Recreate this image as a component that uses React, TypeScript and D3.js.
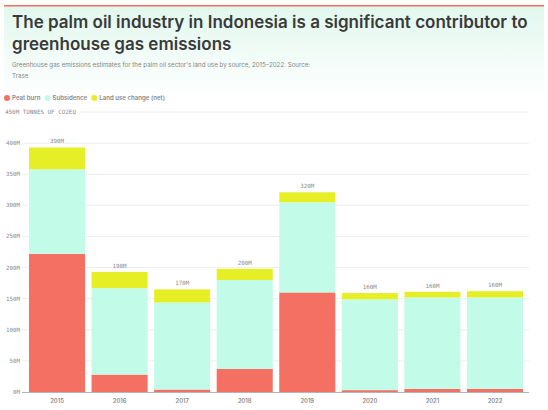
import React, { useEffect, useRef } from "react";
import * as d3 from "d3";

const years = ["2015", "2016", "2017", "2018", "2019", "2020", "2021", "2022"];
const peatBurn = [222, 28, 4, 37, 160, 3, 5, 5];
const subsidence = [136, 139, 140, 143, 145, 146, 147, 147];
const landUse = [35, 26, 21, 18, 16, 10, 9, 10];
const totalLabels = ["390M", "190M", "170M", "200M", "320M", "160M", "160M", "160M"];
const yTicks = [0, 50, 100, 150, 200, 250, 300, 350, 400];

const seriesKeys = ["peat", "subsidence", "landUse"];
const seriesNames = ["Peat burn", "Subsidence", "Land use change (net)"];
const seriesColors = ["#f47062", "#c2fbe8", "#e6ef26"];

const W = 548;
const H = 410;

const App = () => {
  const ref = useRef<SVGSVGElement>(null);

  useEffect(() => {
    const svg = d3.select(ref.current);
    svg.selectAll("*").remove();

    // background card with gradient header
    const defs = svg.append("defs");
    const grad = defs
      .append("linearGradient")
      .attr("id", "hdr")
      .attr("x1", 0)
      .attr("y1", 0)
      .attr("x2", 0)
      .attr("y2", 1);
    grad.append("stop").attr("offset", "0%").attr("stop-color", "#e1f8ee");
    grad.append("stop").attr("offset", "100%").attr("stop-color", "#ffffff");

    svg.append("rect").attr("width", W).attr("height", H).attr("fill", "#fff");
    svg
      .append("rect")
      .attr("x", 4)
      .attr("y", 6)
      .attr("width", 540)
      .attr("height", 92)
      .attr("fill", "url(#hdr)");
    svg
      .append("rect")
      .attr("x", 4)
      .attr("y", 5)
      .attr("width", 540)
      .attr("height", 1.5)
      .attr("fill", "#f47062");

    const font = "Inter, 'Open Sans', sans-serif";

    // title
    const title = svg
      .append("text")
      .attr("x", 12)
      .attr("font-family", font)
      .attr("font-size", 17)
      .attr("font-weight", 600)
      .attr("fill", "#3a3a3a");
    title.append("tspan").attr("x", 12).attr("y", 28).text("The palm oil industry in Indonesia is a significant contributor to");
    title.append("tspan").attr("x", 12).attr("y", 50).text("greenhouse gas emissions");

    const sub = svg
      .append("text")
      .attr("font-family", font)
      .attr("font-size", 6.2)
      .attr("fill", "#858585");
    sub.append("tspan").attr("x", 12).attr("y", 67).text("Greenhouse gas emissions estimates for the palm oil sector's land use by source, 2015\u20132022. Source:");
    sub.append("tspan").attr("x", 12).attr("y", 77.5).text("Trase");

    // legend
    const legend = svg.append("g").attr("transform", "translate(0,98)");
    let lx = 7;
    seriesNames.forEach((name, i) => {
      legend.append("circle").attr("cx", lx).attr("cy", 0).attr("r", 3).attr("fill", seriesColors[i]);
      const t = legend
        .append("text")
        .attr("x", lx + 5)
        .attr("y", 2.2)
        .attr("font-family", font)
        .attr("font-size", 6.1)
        .attr("font-weight", 600)
        .attr("fill", "#8a8a8a")
        .text(name);
      const w = (t.node() as SVGTextElement).getComputedTextLength();
      lx += w + 12;
    });

    const x = d3
      .scaleBand()
      .domain(years)
      .range([23, 529])
      .paddingInner(0.104)
      .paddingOuter(0.096);

    const y = d3.scaleLinear().domain([0, 450]).range([392, 112]);

    const mono = "'DejaVu Sans Mono', 'Liberation Mono', monospace";

    // gridlines
    svg
      .append("g")
      .selectAll("line")
      .data(yTicks.filter((d) => d > 0))
      .join("line")
      .attr("x1", 22)
      .attr("x2", 529)
      .attr("y1", (d) => y(d))
      .attr("y2", (d) => y(d))
      .attr("stroke", "#eeeeee")
      .attr("stroke-width", 1);

    svg
      .append("line")
      .attr("x1", 80)
      .attr("x2", 529)
      .attr("y1", y(450))
      .attr("y2", y(450))
      .attr("stroke", "#eeeeee");

    svg
      .append("g")
      .selectAll("text")
      .data(yTicks)
      .join("text")
      .attr("x", 20)
      .attr("y", (d) => y(d) + 2)
      .attr("text-anchor", "end")
      .attr("font-family", mono)
      .attr("font-size", 5.8)
      .attr("fill", "#8a8a8a")
      .text((d) => `${d}M`);

    svg
      .append("text")
      .attr("x", 5)
      .attr("y", y(450) + 2)
      .attr("font-family", mono)
      .attr("font-size", 5.9)
      .attr("fill", "#8a8a8a")
      .text("450M TONNES OF CO2EQ");

    // stacked bars
    const rows = years.map((yr, i) => ({
      year: yr,
      peat: peatBurn[i],
      subsidence: subsidence[i],
      landUse: landUse[i],
    }));
    const stack = d3.stack<any>().keys(seriesKeys)(rows);

    svg
      .append("g")
      .selectAll("g")
      .data(stack)
      .join("g")
      .attr("fill", (_, i) => seriesColors[i])
      .selectAll("rect")
      .data((d) => d)
      .join("rect")
      .attr("x", (d) => x(d.data.year)!)
      .attr("width", x.bandwidth())
      .attr("y", (d) => y(d[1]))
      .attr("height", (d) => y(d[0]) - y(d[1]));

    // total labels
    svg
      .append("g")
      .selectAll("text")
      .data(rows)
      .join("text")
      .attr("x", (d) => x(d.year)! + x.bandwidth() / 2)
      .attr("y", (d) => y(d.peat + d.subsidence + d.landUse) - 4)
      .attr("text-anchor", "middle")
      .attr("font-family", mono)
      .attr("font-size", 5.8)
      .attr("fill", "#8a8a8a")
      .text((_, i) => totalLabels[i]);

    // x axis
    svg
      .append("line")
      .attr("x1", 22)
      .attr("x2", 529)
      .attr("y1", y(0) + 0.5)
      .attr("y2", y(0) + 0.5)
      .attr("stroke", "#b5b5b5");

    svg
      .append("g")
      .selectAll("text")
      .data(years)
      .join("text")
      .attr("x", (d) => x(d)! + x.bandwidth() / 2)
      .attr("y", 403)
      .attr("text-anchor", "middle")
      .attr("font-family", font)
      .attr("font-size", 5.8)
      .attr("font-weight", 600)
      .attr("fill", "#8a8a8a")
      .text((d) => d);
  }, []);

  return (
    <svg
      ref={ref}
      width={W}
      height={H}
      style={{ position: "absolute", left: 0, top: 0 }}
    />
  );
};

export default App;
